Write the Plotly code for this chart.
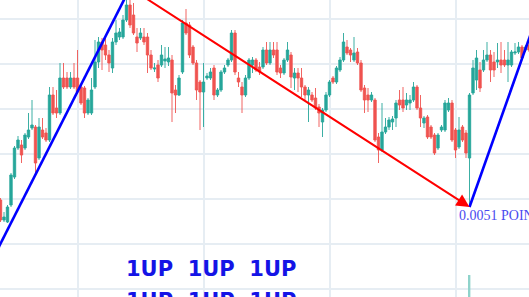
import plotly.graph_objects as go

# ---- candle data (index, open, high, low, close) in chart price units ----
idx = list(range(152))
opens = [100, 80, 78, 95, 123, 152, 155, 152, 163, 172, 173, 142, 170, 167, 160, 205, 192, 187, 222, 222,
         213, 222, 222, 213, 212, 187, 187, 213, 238, 258, 255, 245, 232, 258, 263, 263, 280, 295, 285, 263,
         262, 263, 263, 245, 231, 235, 235, 239, 238, 240, 210, 205, 228, 277, 275, 253, 237, 218, 208, 222,
         222, 232, 205, 210, 228, 235, 240, 267, 222, 213, 205, 222, 235, 240, 233, 233, 250, 237, 250, 250,
         232, 227, 240, 245, 222, 227, 222, 213, 205, 205, 202, 193, 178, 190, 205, 222, 218, 230, 240, 253,
         250, 240, 248, 237, 212, 205, 200, 200, 163, 150, 168, 173, 178, 182, 200, 200, 195, 197, 200, 213,
         192, 177, 183, 173, 165, 152, 170, 170, 190, 197, 170, 153, 173, 167, 142, 207, 220, 230, 230, 240,
         245, 238, 238, 240, 240, 235, 235, 247, 248, 253, 250, 255]
highs = [102, 88, 95, 127, 154, 164, 160, 167, 187, 200, 175, 182, 182, 172, 213, 213, 210, 237, 237, 228,
         228, 237, 250, 215, 214, 202, 222, 260, 263, 262, 265, 250, 262, 280, 272, 285, 300, 312, 297, 272,
         272, 272, 267, 250, 237, 240, 255, 253, 253, 245, 215, 225, 280, 291, 278, 255, 240, 220, 237, 227,
         232, 235, 212, 230, 235, 242, 270, 270, 228, 218, 225, 242, 243, 242, 238, 253, 258, 258, 258, 258,
         235, 242, 258, 248, 232, 232, 232, 215, 213, 208, 212, 196, 192, 208, 220, 224, 234, 243, 267, 260,
         252, 263, 252, 240, 215, 212, 208, 202, 167, 197, 182, 183, 184, 200, 210, 213, 207, 205, 218, 215,
         205, 184, 185, 175, 167, 167, 175, 200, 202, 200, 172, 183, 175, 170, 207, 240, 250, 238, 250, 258,
         250, 248, 257, 258, 250, 258, 250, 257, 258, 255, 255, 258]
lows = [78, 78, 77, 93, 121, 150, 137, 150, 161, 170, 127, 140, 161, 158, 158, 185, 182, 185, 211, 211,
        211, 211, 206, 195, 182, 185, 185, 211, 232, 230, 240, 228, 227, 255, 260, 261, 278, 272, 265, 248,
        260, 255, 227, 230, 228, 218, 233, 232, 234, 178, 187, 204, 226, 265, 242, 235, 200, 170, 173, 220,
        220, 200, 203, 208, 226, 233, 238, 225, 213, 187, 203, 220, 227, 228, 225, 231, 235, 235, 242, 225,
        222, 225, 238, 212, 210, 208, 203, 200, 178, 198, 190, 173, 163, 188, 203, 216, 216, 228, 238, 245,
        238, 238, 235, 208, 187, 188, 198, 158, 137, 148, 166, 170, 170, 173, 190, 188, 190, 190, 198, 190,
        173, 172, 161, 161, 145, 150, 168, 168, 188, 158, 142, 151, 158, 142, 93, 205, 210, 208, 228, 238,
        218, 223, 232, 227, 233, 218, 233, 245, 246, 240, 248, 248]
closes = [80, 83, 93, 125, 152, 160, 145, 165, 170, 175, 137, 173, 163, 160, 205, 187, 187, 222, 213, 213,
          222, 213, 208, 197, 187, 200, 210, 238, 258, 250, 245, 237, 258, 267, 268, 280, 295, 275, 267, 257,
          267, 258, 245, 232, 232, 222, 245, 241, 242, 207, 205, 222, 277, 267, 245, 237, 210, 208, 218, 224,
          228, 205, 210, 228, 232, 240, 267, 228, 218, 205, 222, 240, 240, 230, 228, 250, 237, 250, 245, 228,
          227, 240, 250, 223, 227, 222, 213, 205, 210, 200, 192, 187, 190, 205, 218, 218, 232, 240, 258, 247,
          245, 247, 237, 210, 200, 200, 205, 160, 150, 168, 173, 180, 181, 197, 195, 192, 200, 200, 213, 192,
          182, 182, 163, 163, 147, 165, 173, 197, 197, 160, 150, 170, 160, 147, 205, 232, 242, 212, 240, 245,
          230, 230, 240, 235, 235, 240, 248, 248, 253, 242, 253, 250]

# ---- zig-zag wave pivots ----
wave_x = [-20, 37, 134, 160]
wave_y = [-82, 312, 93, 350]
wave_label = "0.0051 POINT"

# ---- single volume spike visible at the bottom ----
spike_x = [134]
spike_vol = [7.4]

banner_text = "1UP\u00a0\u00a01UP\u00a0\u00a01UP"

GREEN = "#26a69a"
RED = "#ef5350"

fig = go.Figure()

fig.add_trace(go.Bar(x=spike_x, y=spike_vol, width=0.5, marker=dict(color="#8fd3cb", line=dict(width=0)),
                     yaxis="y2", showlegend=False, hoverinfo="skip"))

fig.add_trace(go.Candlestick(
    x=idx, open=opens, high=highs, low=lows, close=closes,
    increasing=dict(line=dict(color=GREEN, width=0.9), fillcolor=GREEN),
    decreasing=dict(line=dict(color=RED, width=0.9), fillcolor=RED),
    whiskerwidth=0, showlegend=False))

# blue legs
fig.add_trace(go.Scatter(x=wave_x[0:2], y=wave_y[0:2], mode="lines",
                         line=dict(color="#0000ff", width=2.6), showlegend=False, hoverinfo="skip"))
fig.add_trace(go.Scatter(x=wave_x[2:4], y=wave_y[2:4], mode="lines",
                         line=dict(color="#0000ff", width=2.6), showlegend=False, hoverinfo="skip"))

# red leg with arrow head
fig.add_annotation(x=wave_x[2], y=wave_y[2], ax=wave_x[1], ay=wave_y[1], axref="x", ayref="y",
                   xref="x", yref="y", text="", showarrow=True, arrowhead=2, arrowsize=1.3,
                   arrowwidth=2, arrowcolor="#ff0000")

fig.add_annotation(x=wave_x[2], y=wave_y[2], xref="x", yref="y", text=wave_label, showarrow=False,
                   xanchor="left", yanchor="top", xshift=-13, yshift=1,
                   font=dict(family="Liberation Serif", size=14, color="#4a4af0"))

for yy in [0.094, -0.012]:
    fig.add_annotation(x=0.398, y=yy, xref="paper", yref="paper", text=banner_text, showarrow=False,
                       xanchor="center", yanchor="middle",
                       font=dict(family="DejaVu Sans", size=21, color="#1414e6", weight="bold"))

fig.update_layout(
    width=529, height=297, margin=dict(l=0, r=0, t=0, b=0),
    paper_bgcolor="white", plot_bgcolor="white", showlegend=False,
    boxgap=0.2, boxgroupgap=0.15,
    xaxis=dict(range=[-0.143, 151.0], tick0=22, dtick=36, showgrid=True, gridcolor="#e6edf3",
               gridwidth=1.5, showticklabels=False, zeroline=False, showline=False,
               rangeslider=dict(visible=False), ticks=""),
    yaxis=dict(range=[3, 300], tick0=11, dtick=45, showgrid=True, gridcolor="#e6edf3",
               gridwidth=1.5, showticklabels=False, zeroline=False, showline=False, ticks=""),
    yaxis2=dict(range=[0, 100], overlaying="y", showgrid=False, showticklabels=False,
                zeroline=False, visible=False),
)

fig.write_html("out.html")
